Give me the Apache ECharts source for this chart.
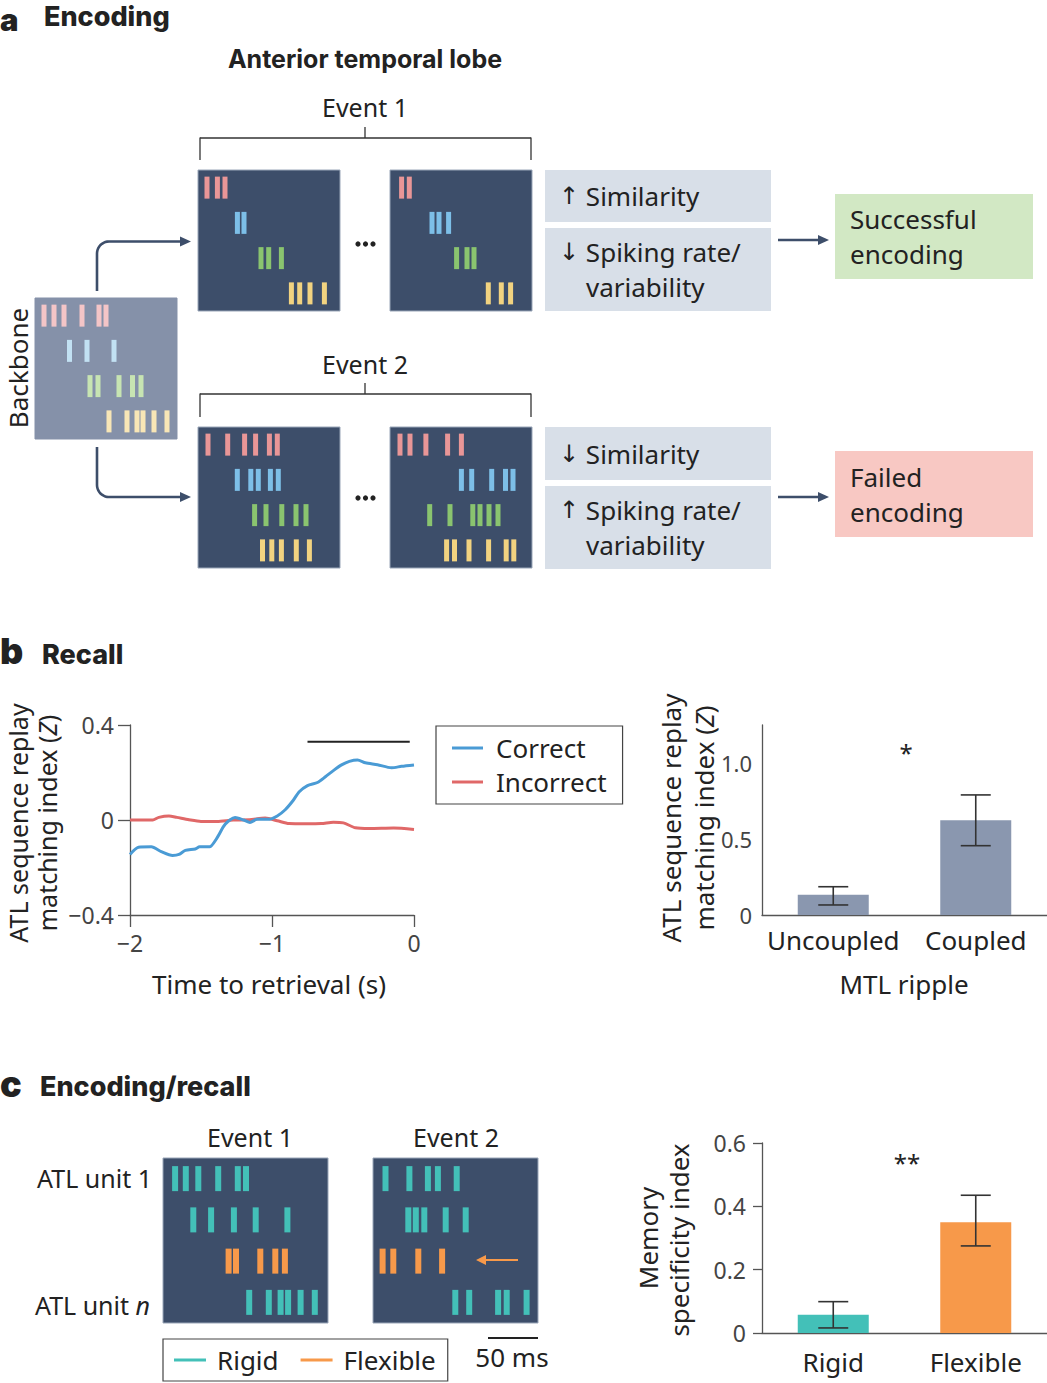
<!DOCTYPE html>
<html><head><meta charset="utf-8">
<script src="https://cdn.jsdelivr.net/npm/echarts@6/dist/echarts.min.js"></script>
<style>html,body{margin:0;padding:0;background:#fff}#c{width:1047px;height:1383px}</style>
</head><body><div id="c"></div><script>
// ---------------- DATA ----------------
// Panel a: spike times within each window (one array per neuron row, top to bottom)
const backboneSpikes = [[9,19,29,47,64,71],[34.5,52,79],[55,63,84,97.5,106],[74,92,102,108,119,132]];
const event1SampleA = [[9,19.4,27],[39.4,46],[63,70.7,83.4],[93.4,101.7,112,126.4]];
const event1SampleB = [[11.6,19.3],[42,49,58.6],[66.6,77,84],[98.3,111.3,120.6]];
const event2SampleA = [[10,29.7,46.6,57.6,71.4,79.3],[39.3,52.8,60.3,72.4,80.3],[56.6,68,83.8,98,108],[64.5,73.8,83.4,98.3,111.4]];
const event2SampleB = [[10,20,35.9,57.6,71.4],[71.4,81.7,101.7,115.5,123],[39.7,60,82.8,90,99,108],[56.6,64.5,79,98.6,116.2,123.8]];

// Panel b: replay matching index time courses [time (s), Z]
const correctCurve = [[-2,-0.145],[-1.94,-0.115],[-1.85,-0.113],[-1.78,-0.133],[-1.70,-0.149],[-1.655,-0.145],[-1.61,-0.128],[-1.54,-0.122],[-1.51,-0.113],[-1.44,-0.113],[-1.39,-0.078],[-1.33,-0.018],[-1.26,0.011],[-1.20,0],[-1.155,-0.01],[-1.105,0.003],[-1.02,0.003],[-0.963,0.017],[-0.907,0.043],[-0.85,0.083],[-0.81,0.118],[-0.75,0.145],[-0.68,0.158],[-0.624,0.182],[-0.568,0.208],[-0.51,0.232],[-0.455,0.247],[-0.398,0.253],[-0.342,0.241],[-0.257,0.233],[-0.158,0.22],[-0.088,0.226],[0,0.232]];
const incorrectCurve = [[-2,0],[-1.84,0],[-1.797,0.011],[-1.726,0.017],[-1.67,0.011],[-1.585,0.001],[-1.5,-0.006],[-1.387,-0.006],[-1.274,0],[-1.16,0.001],[-1.048,0.008],[-0.963,-0.003],[-0.88,-0.015],[-0.765,-0.016],[-0.653,-0.015],[-0.568,-0.009],[-0.497,-0.012],[-0.412,-0.033],[-0.314,-0.036],[-0.144,-0.034],[0,-0.04]];
const sigWindow = [[-0.75,0.33],[-0.03,0.33]];
const rippleCats = ['Uncoupled','Coupled'];
const rippleMean = [0.134, 0.623];
const rippleLow = [0.066, 0.456];
const rippleHigh = [0.186, 0.79];

// Panel c: spike times (ms) within each event window, rows = ATL units
const recallEvent1 = [[12.1,22.8,35.3,55.2,74.8,83],[30.3,48.1,70.9,92.7,124.4],[65.6,73,97.3,112.3,121.9],[86.2,105.8,117.6,125.1,137.6,151.8]];
const recallEvent2 = [[12.5,36.4,54.9,64.9,83.7],[35.3,42.8,51.3,72.7,92.7],[9.6,20.3,45.3,69.1],[82.3,96.2,125.1,133.7,153.6]];
const unitType = ['Rigid','Rigid','Flexible','Rigid'];
const specCats = ['Rigid','Flexible'];
const specMean = [0.058, 0.35];
const specLow = [0.016, 0.275];
const specHigh = [0.099, 0.435];

// ---------------- STYLE ----------------
const FONT = '"Noto Sans", "Liberation Sans", sans-serif';
const HFONT = 'Inter, "Noto Sans", sans-serif';
const NAVY = '#3d4e6a';
const palEvent = ['#e99697','#7dbfe8','#8ac46f','#f2d380'];
const palBackbone = ['#f4c5c7','#c2e1f3','#c7e4b2','#f8e6b6'];
const TEAL = '#43c0b8', ORANGE = '#f7994a';

const chart = echarts.init(document.getElementById('c'), null, {renderer:'svg', width:1047, height:1383});

const rasterGrid = (l,t,w,h,bg,bc) => ({left:l, top:t, width:w, height:h, show:true, backgroundColor:bg, borderColor:bc||bg, borderWidth:1, outerBoundsMode:'none', containLabel:false});
const grids = [
  rasterGrid(35,298,142,141,'#8591a9'),
  rasterGrid(198,170,142,141,NAVY,'#9aa6b8'),
  rasterGrid(390,170,142,141,NAVY,'#9aa6b8'),
  rasterGrid(198,427,142,141,NAVY,'#9aa6b8'),
  rasterGrid(390,427,142,141,NAVY,'#9aa6b8'),
  {left:130, top:725, width:284, height:190, outerBoundsMode:'none', containLabel:false},
  {left:762, top:725, width:285, height:190, outerBoundsMode:'none', containLabel:false},
  rasterGrid(163,1158,165,165,NAVY,'#9aa6b8'),
  rasterGrid(373,1158,165,165,NAVY,'#9aa6b8'),
  {left:762, top:1143, width:285, height:190, outerBoundsMode:'none', containLabel:false}
];
const hiddenX = (g,max) => ({gridIndex:g, type:'value', min:0, max:max, show:false});
const hiddenY = g => ({gridIndex:g, type:'value', min:0, max:4, inverse:true, show:false});
const AX = {color:'#555', width:1.3};

const xAxes = [
  hiddenX(0,142), hiddenX(1,142), hiddenX(2,142), hiddenX(3,142), hiddenX(4,142),
  {gridIndex:5, type:'value', min:-2, max:0, interval:1, splitLine:{show:false},
   axisLine:{show:true, onZero:false, lineStyle:AX}, axisTick:{show:true, length:12, lineStyle:AX},
   axisLabel:{fontSize:23, fontFamily:FONT, color:'#444', margin:16, formatter: v => v === 0 ? '0' : '\u2212' + Math.abs(v)}},
  {gridIndex:6, type:'category', data:rippleCats, axisLine:{show:true, lineStyle:AX}, axisTick:{show:false},
   axisLabel:{fontSize:26, fontFamily:FONT, color:'#222', margin:12, interval:0, hideOverlap:false}},
  hiddenX(7,165), hiddenX(8,165),
  {gridIndex:9, type:'category', data:specCats, axisLine:{show:true, lineStyle:AX}, axisTick:{show:false},
   axisLabel:{fontSize:26, fontFamily:FONT, color:'#222', margin:16, interval:0, hideOverlap:false}}
];
const yAxes = [
  hiddenY(0), hiddenY(1), hiddenY(2), hiddenY(3), hiddenY(4),
  {gridIndex:5, type:'value', min:-0.4, max:0.4, interval:0.4, splitLine:{show:false},
   axisLine:{show:true, onZero:false, lineStyle:AX}, axisTick:{show:true, length:12, lineStyle:AX},
   axisLabel:{fontSize:23, fontFamily:FONT, color:'#444', margin:16,
     formatter: v => Math.abs(v) < 1e-9 ? '0' : (v < 0 ? '\u22120.4' : '0.4')}},
  {gridIndex:6, type:'value', min:0, max:1.25, interval:0.5, splitLine:{show:false},
   axisLine:{show:true, onZero:false, lineStyle:AX}, axisTick:{show:false},
   axisLabel:{fontSize:22, fontFamily:FONT, color:'#444', margin:10, showMaxLabel:false,
     formatter: v => Math.abs(v) < 1e-9 ? '0' : (Math.abs(v-0.5) < 1e-9 ? '0.5' : (Math.abs(v-1) < 1e-9 ? '1.0' : ''))}},
  hiddenY(7), hiddenY(8),
  {gridIndex:9, type:'value', min:0, max:0.6, interval:0.2, splitLine:{show:false},
   axisLine:{show:true, onZero:false, lineStyle:AX}, axisTick:{show:true, length:9, lineStyle:AX},
   axisLabel:{fontSize:23, fontFamily:FONT, color:'#444', margin:16,
     formatter: v => Math.abs(v) < 1e-9 ? '0' : v.toFixed(1)}}
];

// raster series builders
function rasterSeries(g, rows, pal, w, h) {
  const data = [];
  rows.forEach((ts, r) => ts.forEach(t => data.push([t, r + 0.5, r])));
  return {type:'scatter', xAxisIndex:g, yAxisIndex:g, symbol:'rect', symbolSize:[w,h], silent:true,
    itemStyle:{color: p => pal[p.value[2]], opacity:1}, data: data, animation:false};
}
function unitSeries(g, rows, kind, color) {
  const data = [];
  rows.forEach((ts, r) => { if (unitType[r] === kind) ts.forEach(t => data.push([t, r + 0.5])); });
  return {type:'scatter', name:kind, xAxisIndex:g, yAxisIndex:g, symbol:'rect', symbolSize:[6,25], silent:true,
    itemStyle:{color:color, opacity:1}, data:data, animation:false};
}
function errRender(params, api) {
  const x = api.value(0);
  const lo = api.coord([x, api.value(1)]);
  const hi = api.coord([x, api.value(2)]);
  const cap = 15;
  const st = {stroke:'#333', lineWidth:1.6};
  return {type:'group', children:[
    {type:'line', shape:{x1:hi[0], y1:hi[1], x2:lo[0], y2:lo[1]}, style:st},
    {type:'line', shape:{x1:hi[0]-cap, y1:hi[1], x2:hi[0]+cap, y2:hi[1]}, style:st},
    {type:'line', shape:{x1:lo[0]-cap, y1:lo[1], x2:lo[0]+cap, y2:lo[1]}, style:st}
  ]};
}

const series = [
  rasterSeries(0, backboneSpikes, palBackbone, 5, 22),
  rasterSeries(1, event1SampleA, palEvent, 5, 22),
  rasterSeries(2, event1SampleB, palEvent, 5, 22),
  rasterSeries(3, event2SampleA, palEvent, 5, 22),
  rasterSeries(4, event2SampleB, palEvent, 5, 22),
  {type:'line', name:'Correct', xAxisIndex:5, yAxisIndex:5, data:correctCurve, showSymbol:false, smooth:0.25,
   lineStyle:{color:'#4a9bd5', width:3}, itemStyle:{color:'#4a9bd5'}, silent:true, animation:false, z:3},
  {type:'line', name:'Incorrect', xAxisIndex:5, yAxisIndex:5, data:incorrectCurve, showSymbol:false, smooth:0.25,
   lineStyle:{color:'#e06868', width:3}, itemStyle:{color:'#e06868'}, silent:true, animation:false, z:2},
  {type:'line', name:'sig', xAxisIndex:5, yAxisIndex:5, data:sigWindow, showSymbol:false,
   lineStyle:{color:'#222', width:2}, silent:true, animation:false},
  {type:'bar', xAxisIndex:6, yAxisIndex:6, data:rippleMean, barWidth:71, itemStyle:{color:'#8a97af'}, silent:true, animation:false},
  {type:'custom', xAxisIndex:6, yAxisIndex:6, renderItem:errRender, encode:{x:0, y:[1,2]},
   data: rippleCats.map((c,i) => [i, rippleLow[i], rippleHigh[i]]), silent:true, animation:false, z:5},
  unitSeries(7, recallEvent1, 'Rigid', TEAL),
  unitSeries(7, recallEvent1, 'Flexible', ORANGE),
  unitSeries(8, recallEvent2, 'Rigid', TEAL),
  unitSeries(8, recallEvent2, 'Flexible', ORANGE),
  {type:'bar', name:'Rigid', xAxisIndex:9, yAxisIndex:9, data:[specMean[0], '-'], barWidth:71, barGap:'-100%', itemStyle:{color:TEAL}, silent:true, animation:false},
  {type:'bar', name:'Flexible', xAxisIndex:9, yAxisIndex:9, data:['-', specMean[1]], barWidth:71, barGap:'-100%', itemStyle:{color:ORANGE}, silent:true, animation:false},
  {type:'custom', xAxisIndex:9, yAxisIndex:9, renderItem:errRender, encode:{x:0, y:[1,2]},
   data: specCats.map((c,i) => [i, specLow[i], specHigh[i]]), silent:true, animation:false, z:5}
];

// ---------------- ANNOTATIONS ----------------
function txt(x, y, s, o) {
  o = o || {};
  const size = o.size || 26;
  const st = {text:s, fontSize:size, fontFamily:o.family||FONT, fontWeight:o.weight||'normal',
    fontStyle:o.italic?'italic':'normal', fill:o.color||'#222', lineHeight:o.lh||Math.round(size*1.08),
    align:o.align||'left', textAlign:o.align||'left', verticalAlign:'middle', textVerticalAlign:'middle'};
  if (o.rich) st.rich = o.rich;
  return {type:'text', x:x, y:y, rotation:o.rot||0, silent:true, style:st};
}
const rect = (x,y,w,h,fill) => ({type:'rect', shape:{x:x,y:y,width:w,height:h}, style:{fill:fill}, silent:true});
const ln = (x1,y1,x2,y2,c,w) => ({type:'line', shape:{x1:x1,y1:y1,x2:x2,y2:y2}, style:{stroke:c||'#333', lineWidth:w||1.3}, silent:true});
const head = (x,y,dir,c,len,hw) => {
  len = len||10; hw = hw||5;
  const pts = dir > 0 ? [[x-len,y-hw],[x,y],[x-len,y+hw]] : [[x+len,y-hw],[x,y],[x+len,y+hw]];
  return {type:'polygon', shape:{points:pts}, style:{fill:c}, silent:true};
};
// rounded elbow connector: vertical from (x,y0) to corner, then horizontal to x1 at y1
function elbow(x, y0, y1, x1, r) {
  const pts = [[x, y0]];
  const s = y1 < y0 ? 1 : -1;
  const cy = y1 + s * r, cx = x + r;
  pts.push([x, cy]);
  for (let k = 1; k < 10; k++) {
    const a = Math.PI - k * Math.PI / 20;
    pts.push([cx + r * Math.cos(a), cy - s * r * Math.sin(a)]);
  }
  pts.push([cx, y1]);
  pts.push([x1, y1]);
  return {type:'polyline', shape:{points:pts}, style:{stroke:NAVY, lineWidth:2.6, fill:null}, silent:true};
}
const dot = (x,y) => ({type:'circle', shape:{cx:x, cy:y, r:2.6}, style:{fill:'#222'}, silent:true});
const ital = sz => ({i:{fontStyle:'italic', fontSize:sz, fontFamily:FONT, fill:'#222', lineHeight:Math.round(sz*1.08)}});
const LH2 = 35;
const arrowRich = {
  ar:{fontFamily:'"DejaVu Sans", sans-serif', fontSize:24, fill:'#222', lineHeight:LH2},
  t:{fontFamily:FONT, fontSize:26, fill:'#222', lineHeight:LH2}
};

const graphics = [
  // Headings
  txt(0, 19, 'a', {size:31, family:HFONT, weight:900, lh:31}),
  txt(44, 16, 'Encoding', {size:27, family:HFONT, weight:800}),
  txt(0, 651, 'b', {size:36, family:HFONT, weight:900}),
  txt(42, 654, 'Recall', {size:27, family:HFONT, weight:800}),
  txt(0, 1084, 'c', {size:36, family:HFONT, weight:900}),
  txt(40, 1086, 'Encoding/recall', {size:27, family:HFONT, weight:800}),
  // Panel a
  txt(365, 59, 'Anterior temporal lobe', {size:25, family:HFONT, weight:700, align:'center'}),
  txt(365, 107, 'Event 1', {size:25, align:'center'}),
  ln(200,138,531,138), ln(200,137.4,200,160), ln(531,137.4,531,160), ln(365,127,365,138),
  txt(365, 364, 'Event 2', {size:25, align:'center'}),
  ln(200,394,531,394), ln(200,393.4,200,417), ln(531,393.4,531,417), ln(365,383,365,394),
  dot(358,244), dot(365.5,244), dot(373,244),
  dot(358,498), dot(365.5,498), dot(373,498),
  txt(18, 368, 'Backbone', {size:26, rot:Math.PI/2, align:'center'}),
  elbow(97, 291, 241.5, 182, 12),
  head(191,241.5,1,NAVY,11,5),
  elbow(97, 447, 497, 182, 12),
  head(191,497,1,NAVY,11,5),
  rect(545,170,226,52,'#d8dfe8'),
  rect(545,228,226,83,'#d8dfe8'),
  rect(545,427,226,53,'#d8dfe8'),
  rect(545,486,226,83,'#d8dfe8'),
  txt(559, 196, '{ar|\u2191}{t| Similarity}', {size:26, rich:arrowRich}),
  txt(559, 269.5, '{ar|\u2193}{t| Spiking rate/}\n{t|    variability}', {size:26, lh:LH2, rich:arrowRich}),
  txt(559, 454, '{ar|\u2193}{t| Similarity}', {size:26, rich:arrowRich}),
  txt(559, 527.5, '{ar|\u2191}{t| Spiking rate/}\n{t|    variability}', {size:26, lh:LH2, rich:arrowRich}),
  ln(778,240,820,240,NAVY,2.6), head(829,240,1,NAVY,11,5),
  ln(778,497,820,497,NAVY,2.6), head(829,497,1,NAVY,11,5),
  rect(835,194,198,85,'#d2e8c4'),
  rect(835,451,198,86,'#f8c8c3'),
  txt(850, 236.5, 'Successful\nencoding', {size:26, lh:LH2}),
  txt(850, 494, 'Failed\nencoding', {size:26, lh:LH2}),
  // Panel b
  txt(18, 823, 'ATL sequence replay', {size:25, rot:Math.PI/2, align:'center', lh:26}),
  txt(47, 823, 'matching index ({i|Z})', {size:25, rot:Math.PI/2, align:'center', rich:ital(25)}),
  txt(269, 984, 'Time to retrieval (s)', {size:26, align:'center'}),
  txt(671, 818, 'ATL sequence replay', {size:26, rot:Math.PI/2, align:'center'}),
  txt(704, 818, 'matching index ({i|Z})', {size:26, rot:Math.PI/2, align:'center', rich:ital(26)}),
  txt(906, 752, '*', {size:24, align:'center'}),
  txt(904, 984, 'MTL ripple', {size:26, align:'center'}),
  // Panel c
  txt(250, 1137, 'Event 1', {size:25, align:'center'}),
  txt(456, 1137, 'Event 2', {size:25, align:'center'}),
  txt(152, 1178, 'ATL unit 1', {size:25, align:'right'}),
  txt(150, 1305, 'ATL unit {i|n}', {size:25, align:'right', rich:ital(25)}),
  ln(518,1260,484,1260,ORANGE,2.2), head(476,1260,-1,ORANGE,10,5),
  ln(488,1338,538,1338,'#222',2),
  txt(512, 1357, '50 ms', {size:26, align:'center'}),
  txt(648, 1238, 'Memory', {size:26, rot:Math.PI/2, align:'center'}),
  txt(679, 1240, 'specificity index', {size:26, rot:Math.PI/2, align:'center'}),
  txt(907, 1162, '**', {size:24, align:'center'})
];

const option = {
  backgroundColor:'#ffffff',
  animation:false,
  textStyle:{fontFamily:FONT},
  grid: grids,
  xAxis: xAxes,
  yAxis: yAxes,
  legend: [
    {data:['Correct','Incorrect'], left:436, top:726, orient:'vertical', icon:'rect', itemWidth:31, itemHeight:3,
     itemGap:8, padding:[9,16,9,16], borderColor:'#444', borderWidth:1.2, selectedMode:false,
     textStyle:{fontSize:26, fontFamily:FONT, color:'#222', padding:[0,0,0,8]}},
    {data:['Rigid','Flexible'], left:163, top:1339, orient:'horizontal', icon:'rect', itemWidth:32, itemHeight:3,
     itemGap:22, padding:[8,12,8,11], borderColor:'#444', borderWidth:1.2, selectedMode:false,
     textStyle:{fontSize:26, fontFamily:FONT, color:'#222', padding:[0,0,0,6]}}
  ],
  series: series,
  graphic: graphics
};
chart.setOption(option);
</script></body></html>
